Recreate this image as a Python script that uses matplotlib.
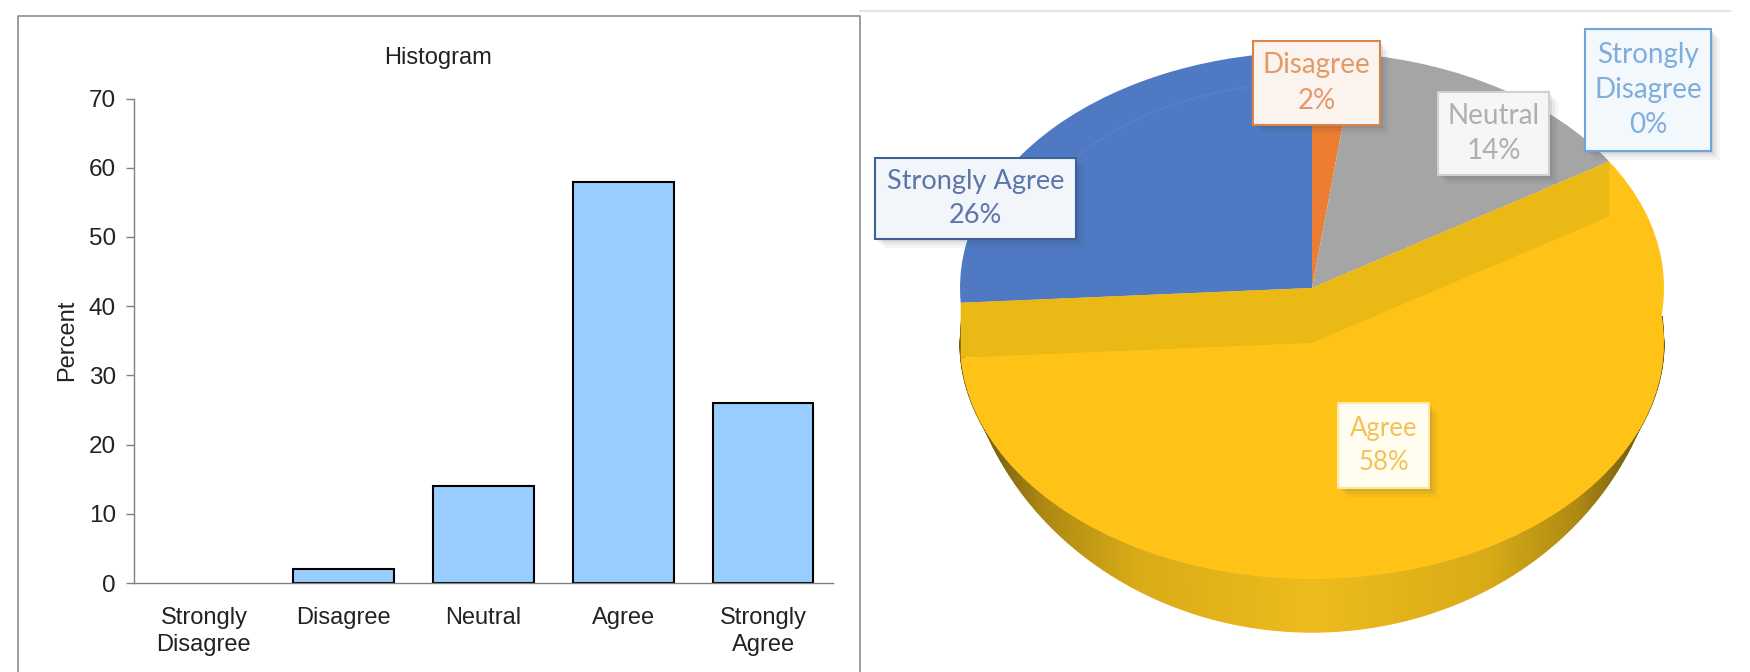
import numpy as np
import matplotlib
matplotlib.use("Agg")
import matplotlib.pyplot as plt
from matplotlib.colors import LinearSegmentedColormap
from matplotlib.patches import Rectangle, Wedge

categories = ["Strongly Disagree", "Disagree", "Neutral", "Agree", "Strongly Agree"]
bar_labels = ["Strongly\nDisagree", "Disagree", "Neutral", "Agree", "Strongly\nAgree"]
percent = [0, 2, 14, 58, 26]
y_ticks = [0, 10, 20, 30, 40, 50, 60, 70]
slice_colors = ["#5B9BD5", "#ED7D31", "#A5A5A5", "#FEC316", "#4F7AC3"]

W, H = 1750, 672
fig = plt.figure(figsize=(W / 100, H / 100), dpi=100, facecolor="white")


def px_axes(x0, y0, x1, y1):
    # axes from pixel corners, y measured from the top
    return fig.add_axes([x0 / W, 1 - y1 / H, (x1 - x0) / W, (y1 - y0) / H])


# histogram on the left
ax = px_axes(134, 98.5, 833, 583)
bars = ax.bar(range(5), percent, width=0.72, color="#99CCFF", edgecolor="black", linewidth=1.5)
for b, v in zip(bars, percent):
    if v == 0:
        b.set_linewidth(0)
ax.set_xlim(-0.5, 4.5)
ax.set_ylim(0, 70)
ax.set_yticks(y_ticks)
ax.set_xticks(range(5))
ax.set_xticklabels(bar_labels, fontsize=17, fontfamily="Liberation Sans", color="#222222", linespacing=1.3)
for t in ax.get_yticklabels():
    t.set_fontsize(17.5)
    t.set_fontfamily("Liberation Sans")
    t.set_color("#222222")
ax.tick_params(axis="y", length=6, width=1, color="#808080", pad=7)
ax.tick_params(axis="x", length=0, pad=17.5)
ax.spines["top"].set_visible(False)
ax.spines["right"].set_visible(False)
for s in ["left", "bottom"]:
    ax.spines[s].set_color("#808080")
    ax.spines[s].set_linewidth(1)
ax.set_ylabel("Percent", fontsize=17, fontfamily="Liberation Sans", color="#222222", labelpad=8)
ax.set_title("Histogram", fontsize=17, fontfamily="Liberation Sans", color="#222222", pad=25, x=0.435)

# pie on the right, unit circle stretched into an ellipse by the axes limits
cx, cy, rx, ry = 1312, 288, 352, 236
pie_ax = px_axes(870, 0, W, H)
wedges, _ = pie_ax.pie(percent, colors=slice_colors, startangle=90, counterclock=False, radius=1)
pie_ax.set_aspect("auto")
pie_ax.set_xlim((870 - cx) / rx, (W - cx) / rx)
pie_ax.set_ylim((cy - H) / ry, cy / ry)

# faint bevel arc on the blue slice
sa = wedges[4]
arc = np.radians(np.linspace(sa.theta1 + 12, sa.theta2 - 30, 60))
pie_ax.plot(0.87 * np.cos(arc), 0.87 * np.sin(arc), color="#6A90D0", lw=1.2, alpha=0.3, zorder=2)

# side wall, a crescent under the rim shaded from dark ends to a bright middle
drop = 55 / ry
wall_cmap = LinearSegmentedColormap.from_list(
    "wall",
    [(0, "#6E5710"), (0.05, "#7F6510"), (0.12, "#AD8A12"), (0.25, "#D9AB17"), (0.5, "#EDBB1C"),
     (0.75, "#D9AB17"), (0.88, "#AD8A12"), (0.95, "#7F6510"), (1, "#6E5710")],
)
angles = np.linspace(-180, 0, 360)
for a0, a1 in zip(angles[:-1], angles[1:]):
    c = np.cos(np.radians([a0, a1]))
    s = np.sin(np.radians([a0, a1]))
    xs = [c[0], c[1], 0.995 * c[1], 0.995 * c[0]]
    ys = [s[0] - drop, s[1] - drop, -0.12 + 1.338 * s[1], -0.12 + 1.338 * s[0]]
    col = wall_cmap((c.mean() + 1) / 2)
    pie_ax.fill(xs, ys, color=col, ec=col, lw=0.8, zorder=1.5)

# the Agree slice sits lower than the others, with a darker band behind it
agree = wedges[3]
t1, t2 = agree.theta1, agree.theta2
for t in (t1, t2):
    ex, ey = np.cos(np.radians(t)), np.sin(np.radians(t))
    pie_ax.fill([0, ex, ex, 0], [0, ey, ey - drop, -drop], color="#EAB916", lw=0, zorder=2)

pie_ax.add_patch(Wedge((0, -drop), 1, t1, t2, fc=slice_colors[3], ec="none", zorder=3))

# page furniture and data labels, in pixel coordinates
over = fig.add_axes([0, 0, 1, 1])
over.set_xlim(0, W)
over.set_ylim(H, 0)
over.axis("off")
over.patch.set_alpha(0)
over.plot([18, 18, 860, 860], [H, 16, 16, H], color="#8C8C8C", lw=1.2)
over.plot([860, 1730], [11, 11], color="#E4E4E4", lw=1.5)

boxes = {
    "Strongly Disagree": (1585, 29, 1711, 151, "#F3F8FC", "#6FA5D8", "#7FAEDB", "Strongly\nDisagree", 20),
    "Disagree": (1253, 41, 1380, 125, "#FBF4EE", "#DB8448", "#E29A68", "Disagree", 20),
    "Neutral": (1438, 92, 1549, 175, "#F6F6F6", "#D0D0D0", "#AFAFAF", "Neutral", 20),
    "Agree": (1338, 403, 1429, 488, "#FFFCF0", "#FFE8A0", "#F3C257", "Agree", 18.5),
    "Strongly Agree": (875, 158, 1076, 239, "#F2F6FB", "#3F5F96", "#5B76A8", "Strongly Agree", 19.5),
}
for name, v in zip(categories, percent):
    x0, y0, x1, y1, fill, edge, tc, shown, fs = boxes[name]
    for off, al in ((9, 0.05), (6, 0.07), (3, 0.1)):
        over.add_patch(Rectangle((x0 + off, y0 + off), x1 - x0, y1 - y0, fc="#30405A", ec="none", alpha=al))
    over.add_patch(Rectangle((x0, y0), x1 - x0, y1 - y0, fc=fill, ec=edge, lw=1.5))
    over.text((x0 + x1) / 2, (y0 + y1) / 2, f"{shown}\n{v}%", ha="center", va="center", color=tc,
              fontsize=fs, fontfamily="Lato", linespacing=1.45)

fig.savefig("out.png", dpi=100)
